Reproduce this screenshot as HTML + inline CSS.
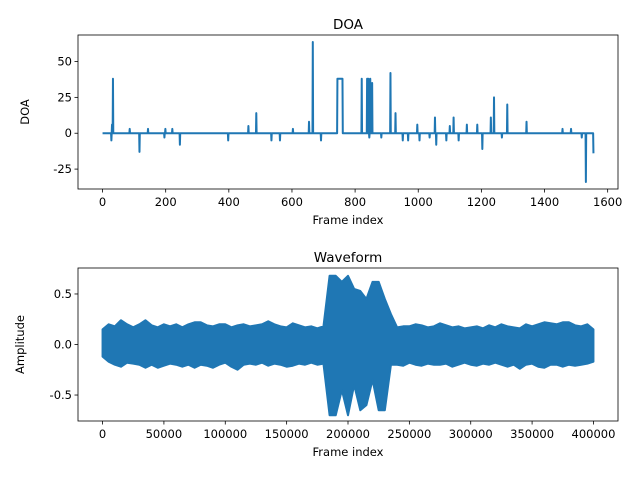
<!DOCTYPE html>
<html><head><meta charset="utf-8"><style>
html,body{margin:0;padding:0;background:#fff;}
svg text{font-family:"DejaVu Sans","Liberation Sans",sans-serif;fill:#000;}
</style></head><body>
<svg id="fig" width="640" height="480" xmlns="http://www.w3.org/2000/svg">
<rect width="640" height="480" fill="#fff"/>
<g id="top"></g>
<g id="bot"></g>
</svg>
<script>
// DOA chart data
const doaLength = 1556;
const spikeFrames = [28,30,33,86,117,144,196,199,221,245,398,462,487,535,562,603,654,666,692,821,838,840,842,845,848,854,883,912,928,951,968,997,1004,1036,1053,1057,1089,1100,1112,1128,1154,1187,1203,1230,1240,1265,1282,1343,1457,1484,1518,1531,1555];
const spikeValues = [-5,6,38,3,-13,3,-3,3,3,-8,-5,5,14,-5,-5,3,8,63.6,-5,38,38,38,38,-3,38,35,-3,42,14,-5,-5,6,-5,-3,11,-8,-5,5,11,-5,6,6,-11,11,25,-3,20,8,3,3,-3,-34,-14];
const blockStart = 744, blockEnd = 760, blockValue = 38;
const doaXTicks = [0,200,400,600,800,1000,1200,1400,1600];
const doaYTicks = [-25,0,25,50];
// Waveform data (envelope every 5000 frames)
const waveFrames = [];
for (let i = 0; i <= 80; i++) waveFrames.push(i*5000);
const waveUpper = [0.15,0.2,0.18,0.24,0.2,0.17,0.2,0.24,0.19,0.17,0.2,0.18,0.2,0.17,0.2,0.22,0.22,0.19,0.18,0.2,0.2,0.17,0.19,0.2,0.18,0.19,0.2,0.23,0.2,0.18,0.17,0.21,0.19,0.17,0.18,0.16,0.18,0.68,0.68,0.62,0.68,0.55,0.53,0.45,0.62,0.62,0.45,0.3,0.17,0.18,0.18,0.2,0.19,0.17,0.18,0.21,0.19,0.17,0.18,0.16,0.17,0.18,0.16,0.19,0.17,0.2,0.18,0.17,0.16,0.2,0.18,0.2,0.22,0.21,0.2,0.22,0.22,0.19,0.18,0.2,0.15];
const waveLower = [-0.12,-0.17,-0.2,-0.22,-0.18,-0.19,-0.2,-0.23,-0.2,-0.23,-0.21,-0.19,-0.2,-0.22,-0.2,-0.23,-0.2,-0.21,-0.23,-0.2,-0.18,-0.22,-0.25,-0.2,-0.19,-0.2,-0.18,-0.21,-0.19,-0.2,-0.22,-0.21,-0.19,-0.2,-0.18,-0.2,-0.19,-0.7,-0.7,-0.45,-0.7,-0.4,-0.65,-0.6,-0.35,-0.65,-0.65,-0.2,-0.2,-0.21,-0.18,-0.2,-0.21,-0.19,-0.2,-0.2,-0.19,-0.22,-0.2,-0.18,-0.2,-0.21,-0.19,-0.2,-0.18,-0.2,-0.22,-0.2,-0.24,-0.2,-0.19,-0.22,-0.23,-0.2,-0.2,-0.22,-0.2,-0.21,-0.2,-0.19,-0.17];
const waveXTicks = [0,50000,100000,150000,200000,250000,300000,350000,400000];
const waveYTicks = [-0.5,0.0,0.5];

const NS = "http://www.w3.org/2000/svg";
const C = "#1f77b4";
function mk(parent, tag, attrs){const e=document.createElementNS(NS,tag);for(const k in attrs)e.setAttribute(k,attrs[k]);parent.appendChild(e);return e;}

function axes(g, box, xd, yd, xticks, yticks, yfmt, title, ylabel, ylx){
  const sx = v => box.l + (v - xd[0])/(xd[1]-xd[0])*(box.r-box.l);
  const sy = v => box.b - (v - yd[0])/(yd[1]-yd[0])*(box.b-box.t);
  xticks.forEach(t=>{
    const x=sx(t);
    const l=mk(g,'line',{x1:x,x2:x,y1:box.b,y2:box.b+3.5,stroke:'#000','stroke-width':0.8});
    
    
    const tx=mk(g,'text',{x:x,y:box.b+17,'font-size':11.5,'text-anchor':'middle'});
    tx.textContent=String(t);
    
    
  });
  yticks.forEach(t=>{
    const y=sy(t);
    const l=mk(g,'line',{x1:box.l-3.5,x2:box.l,y1:y,y2:y,stroke:'#000','stroke-width':0.8});
    
    
    const tx=mk(g,'text',{x:box.l-6,y:y+4,'font-size':11.5,'text-anchor':'end'});
    tx.textContent=yfmt(t);
    
    
  });
  const tt=mk(g,'text',{x:(box.l+box.r)/2,y:box.t-6,'font-size':13.5,'text-anchor':'middle'});
  tt.textContent=title;
  
  
  const xl=mk(g,'text',{x:(box.l+box.r)/2,y:box.b+35,'font-size':11.5,'text-anchor':'middle'});
  xl.textContent='Frame index';
  
  
  const cy=(box.t+box.b)/2;
  const yl=mk(g,'text',{x:0,y:0,'font-size':11.5,'text-anchor':'middle',transform:`translate(${ylx},${cy}) rotate(-90)`});
  yl.textContent=ylabel;
  
  
  return {sx,sy};
}
function frame(g,box){
  const r=mk(g,'rect',{x:box.l,y:box.t,width:box.r-box.l,height:box.b-box.t,fill:'none',stroke:'#000','stroke-width':0.8});
  
  
}

// DOA
(function(){
  const g=document.getElementById('top');
  const box={l:78,r:618,t:35,b:189};
  const vals=new Array(doaLength).fill(0);
  for(let f=blockStart;f<=blockEnd;f++) vals[f]=blockValue;
  spikeFrames.forEach((f,i)=>{ if(f<doaLength) vals[f]=spikeValues[i]; });
  let mn=Math.min(...vals), mx=Math.max(...vals);
  const pad=(mx-mn)*0.05;
  const xpad=(doaLength-1)*0.05;
  const {sx,sy}=axes(g,box,[-xpad,doaLength-1+xpad],[mn-pad,mx+pad],doaXTicks,doaYTicks,t=>String(t),'DOA','DOA',29);
  let d='';
  vals.forEach((v,i)=>{d+=(i?'L':'M')+sx(i).toFixed(2)+','+sy(v).toFixed(2);});
  const p=mk(g,'path',{d:d,fill:'none',stroke:C,'stroke-width':2,'stroke-linejoin':'round'});
  
  
  frame(g,box);
})();

// Waveform
(function(){
  const g=document.getElementById('bot');
  const box={l:78,r:618,t:268,b:421};
  const xmax=waveFrames[waveFrames.length-1];
  const xpad=xmax*0.05;
  const {sx,sy}=axes(g,box,[-xpad,xmax+xpad],[-0.757,0.757],waveXTicks,waveYTicks,t=>t.toFixed(1),'Waveform','Amplitude',24);
  let d='';
  waveFrames.forEach((f,i)=>{d+=(i?'L':'M')+sx(f).toFixed(2)+','+sy(waveUpper[i]).toFixed(2);});
  for(let i=waveFrames.length-1;i>=0;i--){d+='L'+sx(waveFrames[i]).toFixed(2)+','+sy(waveLower[i]).toFixed(2);}
  d+='Z';
  const p=mk(g,'path',{d:d,fill:C,stroke:C,'stroke-width':2,'stroke-linejoin':'round'});
  
  
  frame(g,box);
})();
</script>
</body></html>
